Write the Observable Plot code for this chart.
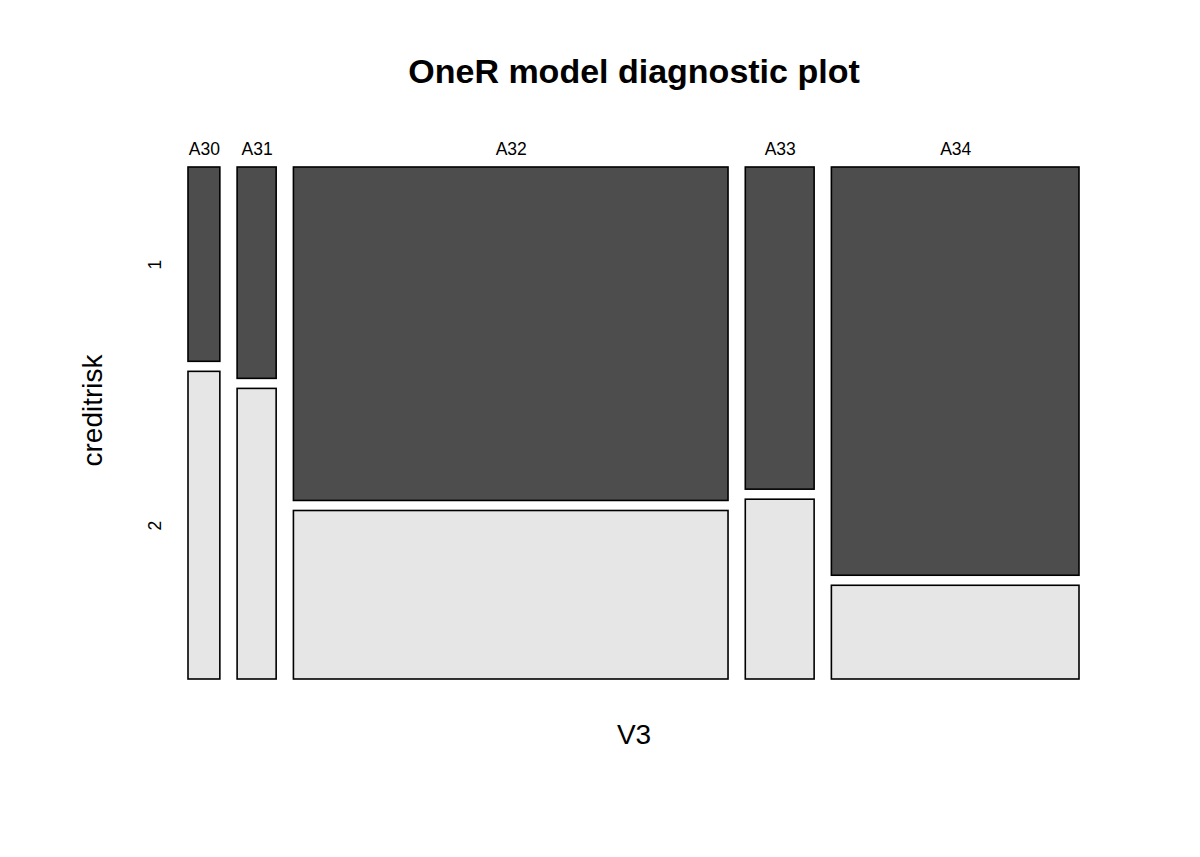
<!DOCTYPE html>
<html>
<head>
<meta charset="utf-8">
<script src="https://cdn.jsdelivr.net/npm/d3@7"></script>
<script src="https://cdn.jsdelivr.net/npm/@observablehq/plot@0.6"></script>
<style>
  html, body { margin: 0; padding: 0; background: #fff; }
  svg { display: block; }
</style>
</head>
<body>
<div id="chart"></div>
<script>
// Counts read from the mosaic (columns: V3 categories; rows: creditrisk levels)
const categories = ["A30", "A31", "A32", "A33", "A34"];
const levels = ["1", "2"];
const risk1 = [12, 16, 281, 43, 196];
const risk2 = [19, 22, 142, 24, 45];
const fills = ["#4d4d4d", "#e6e6e6"];

const gapX = 0.021;   // gap between columns (share of total width)
const gapY = 0.02;    // gap between row pieces (share of height)

const totals = categories.map((c, i) => risk1[i] + risk2[i]);
const N = d3.sum(totals);

// Build mosaic tiles
const tiles = [];
const cols = [];
let cum = 0;
categories.forEach((c, i) => {
  const x1 = cum + i * gapX;
  const x2 = x1 + totals[i] / N;
  cum += totals[i] / N;
  const p1 = risk1[i] / totals[i];
  cols.push({cat: c, xm: (x1 + x2) / 2, p1});
  tiles.push({cat: c, level: levels[0], x1, x2, y1: 1 + gapY - p1, y2: 1 + gapY});
  tiles.push({cat: c, level: levels[1], x1, x2, y1: 0, y2: 1 - p1});
});
const xMax = 1 + (categories.length - 1) * gapX;

const first = cols[0];
const levelLabels = [
  {label: levels[0], y: 1 + gapY - first.p1 / 2},
  {label: levels[1], y: (1 - first.p1) / 2}
];

const font = "Liberation Sans, Arial, Helvetica, sans-serif";

const chart = Plot.plot({
  width: 1200,
  height: 857,
  marginLeft: 188,
  marginRight: 121,
  marginTop: 167,
  marginBottom: 178,
  style: {fontFamily: font, background: "#fff"},
  x: {domain: [0, xMax], axis: null},
  y: {domain: [0, 1 + gapY], axis: null},
  color: {domain: levels, range: fills},
  marks: [
    Plot.rect(tiles, {
      x1: "x1", x2: "x2", y1: "y1", y2: "y2",
      fill: "level", stroke: "#000", strokeWidth: 1.6
    }),
    Plot.text(cols, {
      x: "xm", y: () => 1 + gapY, text: "cat",
      dy: -18, fontSize: 17.5, fill: "#000", lineAnchor: "middle"
    }),
    Plot.text(levelLabels, {
      x: () => 0, y: "y", text: "label",
      dx: -33, rotate: -90, fontSize: 17.5, fill: "#000", lineAnchor: "middle"
    }),
    Plot.text(["OneR model diagnostic plot"], {
      frameAnchor: "top", dy: -95.5, text: d => d,
      fontSize: 34, fontWeight: "bold", fill: "#000", lineAnchor: "middle"
    }),
    Plot.text(["V3"], {
      frameAnchor: "bottom", dy: 56, text: d => d,
      fontSize: 28, fill: "#000", lineAnchor: "middle"
    }),
    Plot.text(["creditrisk"], {
      frameAnchor: "left", dx: -95, dy: -13, rotate: -90, text: d => d,
      fontSize: 28, fill: "#000", lineAnchor: "middle", textAnchor: "middle"
    })
  ]
});

document.getElementById("chart").appendChild(chart);
</script>
</body>
</html>
